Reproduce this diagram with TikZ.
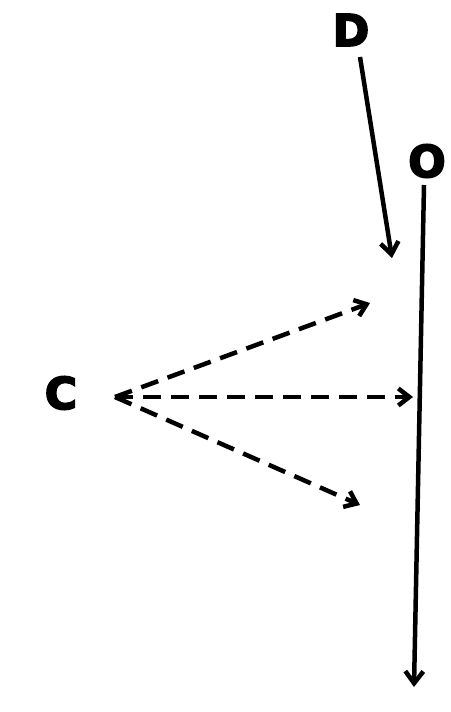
\documentclass[tikz,border=0pt]{standalone}
\usepackage{fontspec}
\setmainfont{DejaVu Sans}
\newfontfamily\heavyfont[FakeBold=4]{DejaVu Sans Bold}
\usetikzlibrary{arrows.meta}
\begin{document}
\begin{tikzpicture}[x=1pt,y=-1pt,
  lbl/.style={font=\heavyfont\fontsize{44}{44}\selectfont, inner sep=0pt},
  solidarrow/.style={line width=4.5pt, -{Straight Barb[length=12pt,width=18pt,line width=4.5pt]}},
  dasharrow/.style={line width=4.5pt, dash pattern=on 18pt off 10pt, -{Straight Barb[length=11pt,width=17pt,line width=4.5pt]}}]
\useasboundingbox (0,0) rectangle (450,712);
\fill[white] (0,0) rectangle (450,712);
\node[lbl] (D) at (351,30) {D};
\node[lbl] (O) at (427,161) {O};
\node[lbl] (C) at (61,393) {C};
\coordinate (d1) at (360,57);
\coordinate (d2) at (392,258);
\coordinate (o1) at (424,185);
\coordinate (o2) at (414,687);
\coordinate (c0) at (115,397);
\coordinate (cu) at (370,303);
\coordinate (cm) at (413,397);
\coordinate (cl) at (360,505);
\draw[solidarrow] (d1) -- (d2);
\draw[solidarrow] (o1) -- (o2);
\draw[dasharrow] (c0) -- (cu);
\draw[dasharrow] (c0) -- (cm);
\draw[dasharrow] (c0) -- (cl);
\end{tikzpicture}
\end{document}
